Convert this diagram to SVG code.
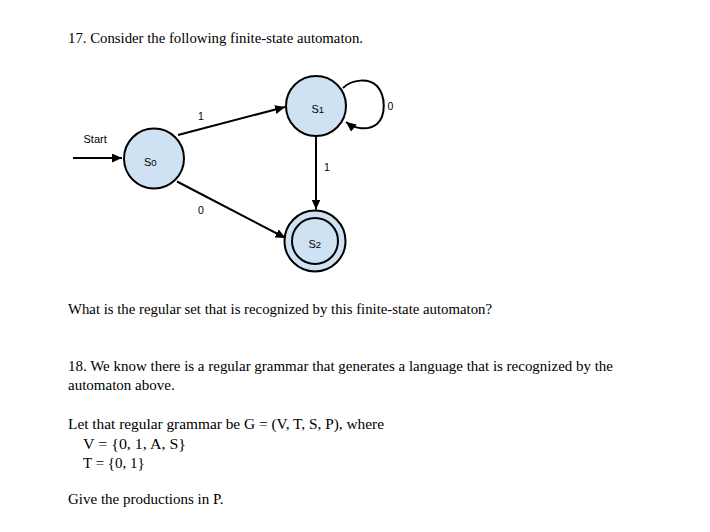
<svg xmlns="http://www.w3.org/2000/svg" width="710" height="532" viewBox="0 0 710 532">
<defs>
<style>
.t{font-family:"Liberation Serif","Times New Roman",serif;font-size:15px;fill:#000}
.d{font-family:"Liberation Sans",Arial,sans-serif;font-size:11px;fill:#000}
.lbl{font-family:"Liberation Sans",Arial,sans-serif;font-size:10.5px;fill:#000}
.sub{font-size:9.5px}
.st{fill:#cfe2f3;stroke:#000;stroke-width:2}
.in{fill:none;stroke:#000;stroke-width:2}
.e{fill:none;stroke:#000;stroke-width:2;marker-end:url(#ah)}
</style>
<marker id="ah" markerUnits="userSpaceOnUse" markerWidth="11" markerHeight="9" refX="10" refY="4.5" orient="auto">
<path d="M0,0 L10,4.5 L0,9 z" fill="#000"/>
</marker>
</defs>
<rect width="710" height="532" fill="#fff"/>
<text class="t" x="68" y="43" textLength="295" lengthAdjust="spacingAndGlyphs">17. Consider the following finite-state automaton.</text>
<g id="connectors">
<line class="e" x1="73" y1="158" x2="122" y2="158"/>
<line class="e" x1="178" y1="135" x2="285" y2="107"/>
<line class="e" x1="177" y1="181.5" x2="285.5" y2="238"/>
<line class="e" x1="316" y1="136" x2="316" y2="209.5"/>
<path class="e" d="M343,88 C352,79 369,78 377,86 C386,96 386,116 377,124 C368,131 355,129 346,122"/>
<text class="d" x="83.5" y="142.5">Start</text>
<text class="lbl" x="201" y="120" text-anchor="middle">1</text>
<text class="lbl" x="201" y="213.5" text-anchor="middle">0</text>
<text class="lbl" x="327" y="171" text-anchor="middle">1</text>
<text class="lbl" x="390.5" y="109.5" text-anchor="middle">0</text>
</g>
<g id="s0">
<circle class="st" cx="154" cy="158.5" r="30"/>
<text class="d" x="144" y="166">S<tspan class="sub">0</tspan></text>
</g>
<g id="s1">
<circle class="st" cx="316" cy="106" r="30"/>
<text class="d" x="311.5" y="112.5">S<tspan class="sub">1</tspan></text>
</g>
<g id="s2">
<circle class="st" cx="315" cy="241" r="30.5"/>
<circle class="in" cx="315" cy="241" r="23"/>
<text class="d" x="308.5" y="247.5">S<tspan class="sub">2</tspan></text>
</g>
<text class="t" x="68" y="313.5" textLength="424" lengthAdjust="spacingAndGlyphs">What is the regular set that is recognized by this finite-state automaton?</text>
<text class="t" x="68" y="371" textLength="545" lengthAdjust="spacingAndGlyphs">18. We know there is a regular grammar that generates a language that is recognized by the</text>
<text class="t" x="68" y="390">automaton above.</text>
<text class="t" x="68" y="429" textLength="316" lengthAdjust="spacingAndGlyphs">Let that regular grammar be G = (V, T, S, P), where</text>
<text class="t" x="83" y="448.5" textLength="103" lengthAdjust="spacingAndGlyphs">V = {0, 1, A, S}</text>
<text class="t" x="83" y="468">T = {0, 1}</text>
<text class="t" x="68" y="504">Give the productions in P.</text>
</svg>
